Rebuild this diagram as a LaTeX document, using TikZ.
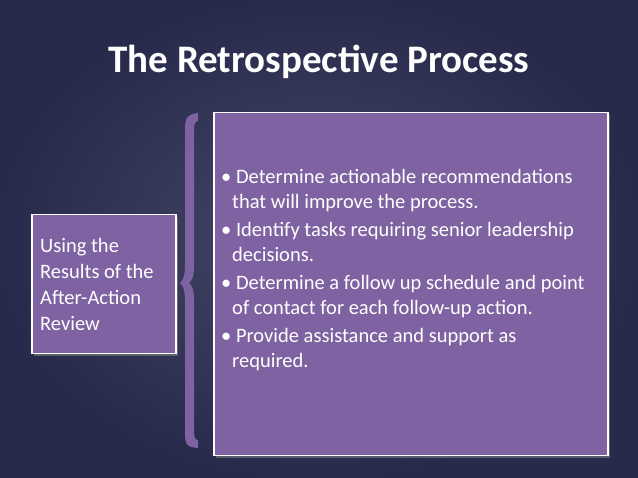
\documentclass[tikz,border=0pt]{standalone}
\usepackage{fontspec}
\setmainfont{Carlito}
\usetikzlibrary{positioning,shadows}
\definecolor{navy}{HTML}{2B2E52}
\definecolor{plum}{HTML}{7F62A2}
\tikzset{
  panel/.style={draw=white, line width=1.5pt, fill=plum, drop shadow={opacity=0.6}, anchor=north west},
  paneltext/.style={text=white, align=left, inner sep=0pt, font=\fontsize{20.5}{25.5}\selectfont}
}
\begin{document}
\begin{tikzpicture}[x=1pt, y=-1pt]
    % background
    \useasboundingbox (0,0) rectangle (638,478);
    \shade[inner color=navy!88!white, outer color=navy!92!black] (0,0) rectangle (638,478);
    \node[text=white, font=\bfseries\fontsize{39}{44}\selectfont] (title) at (319,62) {The Retrospective Process};

    % boxes
    \node[panel, minimum width=144, minimum height=139] (source) at (31,214) {};
    \node[paneltext, anchor=west, font=\fontsize{20.5}{26}\selectfont] (sourcetext) at ([xshift=9pt]source.west) {Using the\\Results of the\\After-Action\\Review};
    \node[panel, minimum width=394, minimum height=343] (actions) at (213,112) {};
    \node[paneltext, anchor=west] (actionstext) at ([xshift=8pt,yshift=14pt]actions.west) {%
    \textbullet\ Determine actionable recommendations\\
    \hspace*{11pt}that will improve the process.\\[2pt]
    \textbullet\ Identify tasks requiring senior leadership\\
    \hspace*{11pt}decisions.\\[2pt]
    \textbullet\ Determine a follow up schedule and point\\
    \hspace*{11pt}of contact for each follow-up action.\\[2pt]
    \textbullet\ Provide assistance and support as\\
    \hspace*{11pt}required.};

    % brace
    \fill[plum] (198,113) .. controls (186,114) and (185,120) .. (185,130)
      -- (185,265) .. controls (185,276) and (183,281) .. (180,283)
      .. controls (183,285) and (185,290) .. (185,301)
      -- (185,432) .. controls (185,444) and (186,447) .. (198,448)
      -- (198,440) .. controls (195,440) and (194,438) .. (194,430)
      -- (194,300) .. controls (194,290) and (192,285) .. (189,283)
      .. controls (192,281) and (194,276) .. (194,266)
      -- (194,132) .. controls (194,124) and (195,121) .. (198,121) -- cycle;
\end{tikzpicture}
\end{document}
